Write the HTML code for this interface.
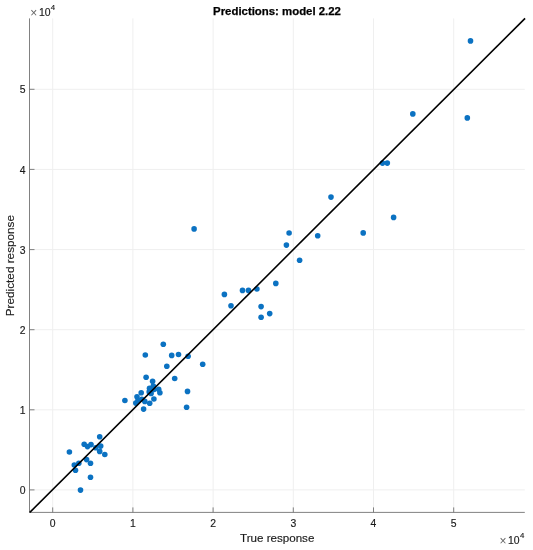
<!DOCTYPE html>
<html><head><meta charset="utf-8"><title>Predictions: model 2.22</title>
<style>
html,body{margin:0;padding:0;background:#fff;}
svg{display:block;}
text{font-family:"Liberation Sans",Helvetica,Arial,sans-serif;fill:#1a1a1a;stroke:#1a1a1a;stroke-width:0.15px;}
.tk{font-size:10.4px;}
.lb{font-size:11.6px;}
.tt{font-size:11.4px;font-weight:bold;fill:#000;stroke:#000;stroke-width:0.25px;}
.ex{font-size:10.4px;}
.xs{font-size:12px;fill:#666;stroke:none;}
</style></head><body>
<svg width="533" height="550" viewBox="0 0 533 550">
<rect width="533" height="550" fill="#fff"/>
<g stroke="#efefef" stroke-width="1" fill="none">
<line x1="52.7" y1="18.4" x2="52.7" y2="512.4"/>
<line x1="132.9" y1="18.4" x2="132.9" y2="512.4"/>
<line x1="213.1" y1="18.4" x2="213.1" y2="512.4"/>
<line x1="293.3" y1="18.4" x2="293.3" y2="512.4"/>
<line x1="373.5" y1="18.4" x2="373.5" y2="512.4"/>
<line x1="453.7" y1="18.4" x2="453.7" y2="512.4"/>
<line x1="29.5" y1="489.9" x2="524.8" y2="489.9"/>
<line x1="29.5" y1="409.8" x2="524.8" y2="409.8"/>
<line x1="29.5" y1="329.7" x2="524.8" y2="329.7"/>
<line x1="29.5" y1="249.6" x2="524.8" y2="249.6"/>
<line x1="29.5" y1="169.4" x2="524.8" y2="169.4"/>
<line x1="29.5" y1="89.3" x2="524.8" y2="89.3"/>
</g>
<g stroke="#737373" stroke-width="0.9" fill="none">
<line x1="29.5" y1="18.4" x2="29.5" y2="512.9"/>
<line x1="29.0" y1="512.4" x2="524.8" y2="512.4"/>
<line x1="52.7" y1="512.4" x2="52.7" y2="507.4"/>
<line x1="132.9" y1="512.4" x2="132.9" y2="507.4"/>
<line x1="213.1" y1="512.4" x2="213.1" y2="507.4"/>
<line x1="293.3" y1="512.4" x2="293.3" y2="507.4"/>
<line x1="373.5" y1="512.4" x2="373.5" y2="507.4"/>
<line x1="453.7" y1="512.4" x2="453.7" y2="507.4"/>
<line x1="29.5" y1="489.9" x2="34.5" y2="489.9"/>
<line x1="29.5" y1="409.8" x2="34.5" y2="409.8"/>
<line x1="29.5" y1="329.7" x2="34.5" y2="329.7"/>
<line x1="29.5" y1="249.6" x2="34.5" y2="249.6"/>
<line x1="29.5" y1="169.4" x2="34.5" y2="169.4"/>
<line x1="29.5" y1="89.3" x2="34.5" y2="89.3"/>
</g>
<g fill="#0b72c2">
<circle cx="69.4" cy="452.0" r="2.8"/>
<circle cx="74.3" cy="465.0" r="2.8"/>
<circle cx="78.8" cy="463.2" r="2.8"/>
<circle cx="75.5" cy="470.3" r="2.8"/>
<circle cx="80.5" cy="490.1" r="2.8"/>
<circle cx="84.2" cy="444.2" r="2.8"/>
<circle cx="87.5" cy="446.6" r="2.8"/>
<circle cx="91.0" cy="444.6" r="2.8"/>
<circle cx="86.6" cy="459.6" r="2.8"/>
<circle cx="90.5" cy="463.2" r="2.8"/>
<circle cx="90.5" cy="477.2" r="2.8"/>
<circle cx="95.8" cy="447.8" r="2.8"/>
<circle cx="99.7" cy="436.8" r="2.8"/>
<circle cx="100.7" cy="446.1" r="2.8"/>
<circle cx="99.7" cy="451.4" r="2.8"/>
<circle cx="104.8" cy="454.5" r="2.8"/>
<circle cx="124.9" cy="400.5" r="2.8"/>
<circle cx="135.8" cy="403.1" r="2.8"/>
<circle cx="137.0" cy="396.7" r="2.8"/>
<circle cx="138.0" cy="400.2" r="2.8"/>
<circle cx="141.2" cy="392.8" r="2.8"/>
<circle cx="141.8" cy="399.3" r="2.8"/>
<circle cx="143.6" cy="409.1" r="2.8"/>
<circle cx="144.8" cy="401.4" r="2.8"/>
<circle cx="145.3" cy="355.0" r="2.8"/>
<circle cx="146.1" cy="377.3" r="2.8"/>
<circle cx="149.7" cy="403.2" r="2.8"/>
<circle cx="149.5" cy="388.3" r="2.8"/>
<circle cx="149.2" cy="391.9" r="2.8"/>
<circle cx="151.1" cy="393.4" r="2.8"/>
<circle cx="152.6" cy="381.3" r="2.8"/>
<circle cx="153.3" cy="386.0" r="2.8"/>
<circle cx="153.9" cy="399.0" r="2.8"/>
<circle cx="154.0" cy="389.5" r="2.8"/>
<circle cx="158.7" cy="389.2" r="2.8"/>
<circle cx="159.9" cy="392.8" r="2.8"/>
<circle cx="163.3" cy="344.2" r="2.8"/>
<circle cx="166.8" cy="366.2" r="2.8"/>
<circle cx="171.7" cy="355.4" r="2.8"/>
<circle cx="178.5" cy="354.5" r="2.8"/>
<circle cx="174.7" cy="378.5" r="2.8"/>
<circle cx="188.1" cy="356.2" r="2.8"/>
<circle cx="187.5" cy="391.4" r="2.8"/>
<circle cx="186.6" cy="407.2" r="2.8"/>
<circle cx="202.7" cy="364.3" r="2.8"/>
<circle cx="194.1" cy="228.9" r="2.8"/>
<circle cx="224.4" cy="294.4" r="2.8"/>
<circle cx="231.0" cy="305.7" r="2.8"/>
<circle cx="242.5" cy="290.4" r="2.8"/>
<circle cx="248.5" cy="290.4" r="2.8"/>
<circle cx="256.9" cy="289.0" r="2.8"/>
<circle cx="261.1" cy="306.6" r="2.8"/>
<circle cx="261.1" cy="317.2" r="2.8"/>
<circle cx="269.7" cy="313.6" r="2.8"/>
<circle cx="275.8" cy="283.4" r="2.8"/>
<circle cx="286.4" cy="245.1" r="2.8"/>
<circle cx="289.1" cy="233.0" r="2.8"/>
<circle cx="299.6" cy="260.2" r="2.8"/>
<circle cx="317.7" cy="235.8" r="2.8"/>
<circle cx="331.0" cy="197.1" r="2.8"/>
<circle cx="363.2" cy="232.9" r="2.8"/>
<circle cx="382.5" cy="163.1" r="2.8"/>
<circle cx="387.3" cy="163.1" r="2.8"/>
<circle cx="393.6" cy="217.4" r="2.8"/>
<circle cx="412.8" cy="113.9" r="2.8"/>
<circle cx="470.5" cy="40.9" r="2.8"/>
<circle cx="467.3" cy="117.9" r="2.8"/>
</g>
<line x1="29.8" y1="512.4" x2="525.0999999999999" y2="18.4" stroke="#000" stroke-width="1.6"/>
<text class="tk" x="52.7" y="526.7" text-anchor="middle">0</text>
<text class="tk" x="132.9" y="526.7" text-anchor="middle">1</text>
<text class="tk" x="213.1" y="526.7" text-anchor="middle">2</text>
<text class="tk" x="293.3" y="526.7" text-anchor="middle">3</text>
<text class="tk" x="373.5" y="526.7" text-anchor="middle">4</text>
<text class="tk" x="453.7" y="526.7" text-anchor="middle">5</text>
<text class="tk" x="25.6" y="494.1" text-anchor="end">0</text>
<text class="tk" x="25.6" y="413.9" text-anchor="end">1</text>
<text class="tk" x="25.6" y="333.8" text-anchor="end">2</text>
<text class="tk" x="25.6" y="253.7" text-anchor="end">3</text>
<text class="tk" x="25.6" y="173.5" text-anchor="end">4</text>
<text class="tk" x="25.6" y="93.4" text-anchor="end">5</text>
<text class="tt" x="277" y="14.5" text-anchor="middle">Predictions: model 2.22</text>
<text class="lb" x="277.2" y="541.5" text-anchor="middle">True response</text>
<text class="lb" style="font-size:11.75px" transform="translate(13.5 265.6) rotate(-90)" text-anchor="middle">Predicted response</text>
<text class="ex"><tspan class="xs" x="30.3" y="17.3">×</tspan><tspan x="39.1" y="15.9">10</tspan><tspan font-size="7.8px" x="50.8" y="9.6">4</tspan></text>
<text class="ex"><tspan class="xs" x="499.6" y="545.1">×</tspan><tspan x="508.0" y="543.8">10</tspan><tspan font-size="7.8px" x="519.9" y="537.8">4</tspan></text>
</svg></body></html>
